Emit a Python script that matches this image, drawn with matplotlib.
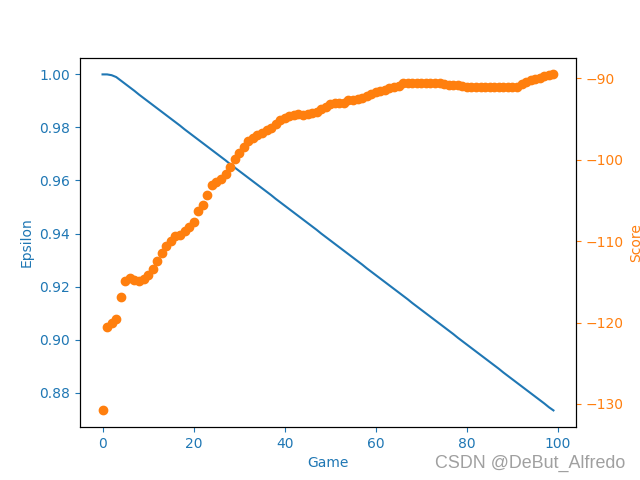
import matplotlib
matplotlib.use("Agg")
import matplotlib.pyplot as plt

games = list(range(100))

epsilon = [
    1.0000, 1.0000, 0.9997, 0.9990, 0.9977, 0.9964, 0.9951, 0.9938, 0.9924, 0.9911,
    0.9898, 0.9885, 0.9872, 0.9859, 0.9846, 0.9833, 0.9820, 0.9807, 0.9793, 0.9780,
    0.9767, 0.9754, 0.9741, 0.9728, 0.9715, 0.9702, 0.9689, 0.9676, 0.9662, 0.9649,
    0.9636, 0.9623, 0.9610, 0.9597, 0.9584, 0.9571, 0.9558, 0.9545, 0.9531, 0.9518,
    0.9505, 0.9492, 0.9479, 0.9466, 0.9453, 0.9440, 0.9427, 0.9414, 0.9400, 0.9387,
    0.9374, 0.9361, 0.9348, 0.9335, 0.9322, 0.9309, 0.9296, 0.9283, 0.9269, 0.9256,
    0.9243, 0.9230, 0.9217, 0.9204, 0.9191, 0.9178, 0.9165, 0.9152, 0.9138, 0.9125,
    0.9112, 0.9099, 0.9086, 0.9073, 0.9060, 0.9047, 0.9034, 0.9021, 0.9007, 0.8994,
    0.8981, 0.8968, 0.8955, 0.8942, 0.8929, 0.8916, 0.8903, 0.8890, 0.8876, 0.8863,
    0.8850, 0.8837, 0.8824, 0.8811, 0.8798, 0.8785, 0.8772, 0.8759, 0.8745, 0.8733,
]

scores = [
    -130.8, -120.6, -120.0, -119.6, -116.9, -114.9, -114.5, -114.8, -114.9, -114.6,
    -114.1, -113.4, -112.4, -111.4, -110.6, -110.0, -109.4, -109.2, -108.8, -108.3,
    -107.7, -106.3, -105.6, -104.3, -103.1, -102.7, -102.4, -101.7, -100.9, -99.9,
    -99.1, -98.4, -97.7, -97.3, -96.9, -96.7, -96.3, -96.1, -95.6, -95.1,
    -94.8, -94.6, -94.5, -94.4, -94.5, -94.4, -94.3, -94.1, -93.8, -93.5,
    -93.1, -93.0, -93.0, -93.0, -92.7, -92.6, -92.5, -92.4, -92.2, -91.9,
    -91.7, -91.5, -91.4, -91.2, -91.1, -90.9, -90.6, -90.5, -90.5, -90.5,
    -90.5, -90.5, -90.5, -90.5, -90.5, -90.7, -90.8, -90.8, -90.8, -90.9,
    -91.0, -91.0, -91.0, -91.0, -91.0, -91.0, -91.0, -91.0, -91.0, -91.0,
    -91.0, -91.0, -90.7, -90.4, -90.2, -90.1, -89.9, -89.7, -89.6, -89.5,
]

fig, ax = plt.subplots()

ax.plot(games, epsilon, color="C0")
ax.set_xlabel("Game", color="C0")
ax.set_ylabel("Epsilon", color="C0")
ax.tick_params(axis="x", colors="C0")
ax.tick_params(axis="y", colors="C0")

ax2 = ax.twinx()
ax2.scatter(games, scores, color="C1")
ax2.set_ylabel("Score", color="C1")
ax2.yaxis.set_label_position("right")
ax2.tick_params(axis="y", colors="C1")

# watermark from the source page
fig.text(0.679, 0.025, "CSDN @DeBut_Alfredo", color="#a0a0a0", fontsize=12.9,
         family="Liberation Sans")

plt.savefig("out.png", dpi=100)
